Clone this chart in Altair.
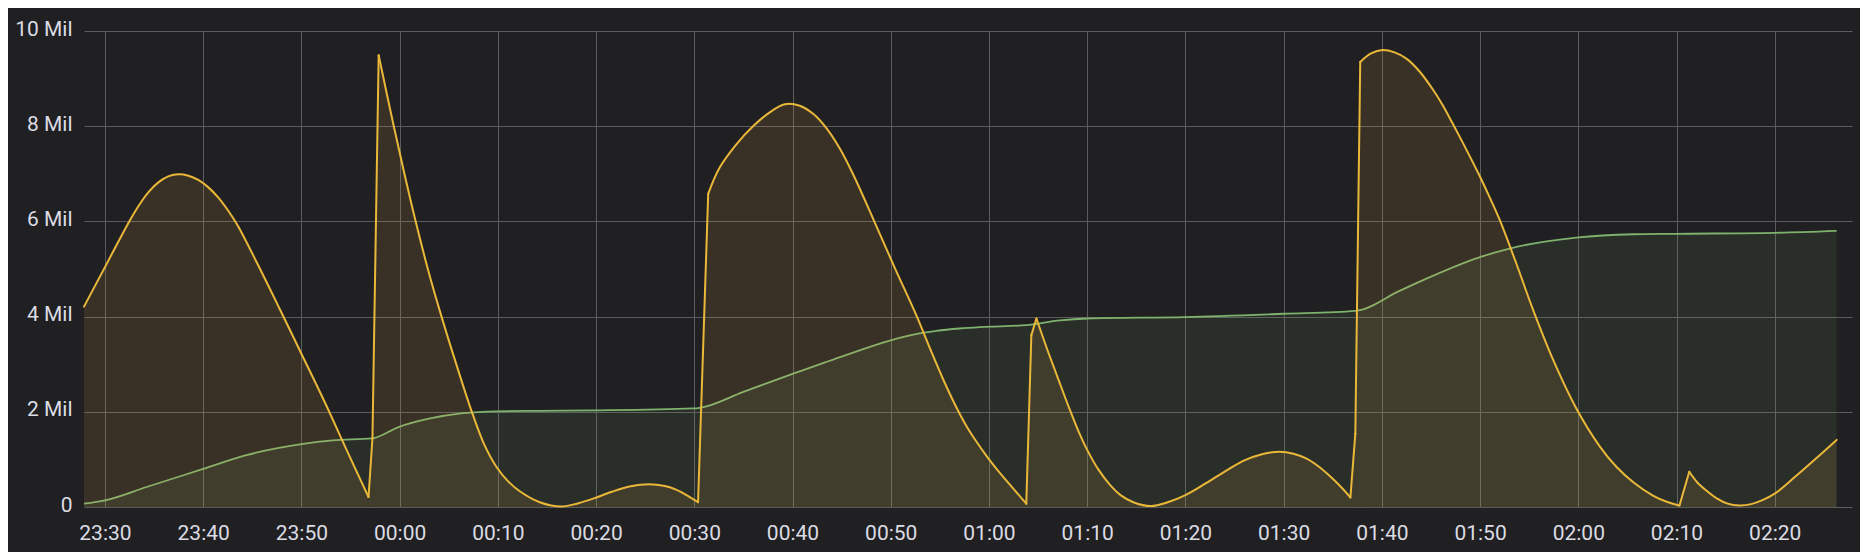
import altair as alt
import pandas as pd

# ---- data (values in millions) ----
yellow_times = [
    # piece 0
    "23:27:52", "23:30:00", "23:31:18", "23:32:32", "23:33:30", "23:34:30", "23:35:30",
    "23:36:30", "23:37:28", "23:38:30", "23:39:30", "23:40:30", "23:41:30", "23:42:30",
    "23:43:30", "23:45:30", "23:47:49", "23:50:00", "23:52:23", "23:54:36", "23:56:50",
    # jump
    "23:57:14",
    # piece 1
    "23:57:52", "23:59:21", "00:00:30", "00:01:33", "00:02:54", "00:04:16", "00:05:48",
    "00:07:19", "00:08:36", "00:09:52", "00:11:00", "00:12:14", "00:14:16", "00:16:29",
    "00:18:12", "00:19:54", "00:21:36", "00:23:24", "00:25:24", "00:27:00", "00:28:12",
    "00:29:18", "00:30:23",
    # piece 2
    "00:31:25", "00:32:35", "00:34:17", "00:35:59", "00:37:41", "00:39:13", "00:40:44",
    "00:42:06", "00:43:27", "00:44:49", "00:46:10", "00:48:12", "00:50:24", "00:52:36",
    "00:54:00", "00:55:18", "00:56:30", "00:57:36", "00:58:42", "00:59:48", "01:00:54",
    "01:02:00", "01:03:48",
    # jump
    "01:04:19",
    # piece 3
    "01:04:50", "01:05:54", "01:07:00", "01:08:12", "01:09:06", "01:10:00", "01:11:06",
    "01:12:18", "01:13:24", "01:14:42", "01:16:30", "01:18:12", "01:20:00", "01:22:06",
    "01:24:12", "01:26:00", "01:27:48", "01:29:36", "01:31:00", "01:32:18", "01:33:30",
    "01:34:42", "01:35:48", "01:36:48",
    # jump
    "01:37:18",
    # piece 4
    "01:37:48", "01:38:54", "01:40:06", "01:41:18", "01:42:30", "01:43:48", "01:45:12",
    "01:46:12", "01:47:12", "01:48:30", "01:49:51", "01:50:54", "01:52:00", "01:53:42",
    "01:55:24", "01:57:24", "01:59:48", "02:02:12", "02:03:54", "02:05:36", "02:07:36",
    "02:09:00", "02:10:18",
    # piece 5
    "02:11:18", "02:12:06", "02:13:00", "02:14:06", "02:15:12", "02:16:24", "02:17:36",
    "02:18:48", "02:20:00", "02:22:06", "02:24:12", "02:26:18",
]
yellow_values = [
    4.21, 5.04, 5.55, 6.02, 6.35, 6.63, 6.83,
    6.95, 6.99, 6.96, 6.87, 6.72, 6.51, 6.24,
    5.92, 5.12, 4.15, 3.22, 2.20, 1.20, 0.21,
    1.44,
    9.49, 8.05, 6.99, 6.07, 4.98, 4.00, 2.98,
    2.02, 1.32, 0.84, 0.55, 0.33, 0.10, 0.01,
    0.08, 0.19, 0.32, 0.43, 0.48, 0.44, 0.36,
    0.24, 0.10,
    6.58, 7.13, 7.62, 8.00, 8.29, 8.46, 8.43,
    8.26, 7.96, 7.53, 6.99, 6.06, 5.03, 4.03,
    3.33, 2.70, 2.17, 1.74, 1.38, 1.06, 0.77,
    0.50, 0.07,
    3.61,
    3.96, 3.33, 2.72, 2.06, 1.60, 1.20, 0.80,
    0.47, 0.25, 0.10, 0.02, 0.10, 0.25, 0.50,
    0.77, 0.98, 1.11, 1.16, 1.12, 1.02, 0.86,
    0.65, 0.43, 0.20,
    1.54,
    9.35, 9.53, 9.60, 9.55, 9.42, 9.16, 8.77,
    8.44, 8.06, 7.55, 7.00, 6.54, 6.03, 5.11,
    4.14, 3.11, 2.07, 1.27, 0.84, 0.52, 0.24,
    0.11, 0.03,
    0.74, 0.52, 0.35, 0.18, 0.07, 0.03, 0.06,
    0.15, 0.28, 0.64, 1.02, 1.41,
]
# smooth piece each point belongs to (odd ids are the single in-between points of jumps)
yellow_piece = [0] * 21 + [1] + [2] * 23 + [4] * 23 + [5] + [6] * 24 + [7] + [8] * 23 + [10] * 12

green_times = [
    "23:27:52", "23:30:00", "23:34:14", "23:40:00", "23:44:24", "23:50:00", "23:53:12",
    "23:57:12", "23:59:54", "00:03:06", "00:06:30", "00:09:54", "00:14:16", "00:19:54",
    "00:29:51", "00:30:42", "00:35:00", "00:39:48", "00:45:00", "00:50:00", "00:52:18",
    "00:54:39", "00:57:00", "00:59:04", "01:03:48", "01:07:12", "01:10:00", "01:20:00",
    "01:30:00", "01:37:18", "01:41:48", "01:43:48", "01:49:51", "01:53:00", "01:59:48",
    "02:05:36", "02:09:48", "02:20:00", "02:26:18",
]
green_values = [
    0.07, 0.14, 0.42, 0.80, 1.09, 1.32, 1.40,
    1.44, 1.68, 1.86, 1.97, 2.01, 2.02, 2.03,
    2.07, 2.09, 2.42, 2.78, 3.16, 3.50, 3.62,
    3.70, 3.75, 3.78, 3.82, 3.92, 3.96, 3.99,
    4.06, 4.12, 4.54, 4.73, 5.24, 5.43, 5.66,
    5.73, 5.74, 5.76, 5.80,
]
tick_labels = ["23:30", "23:40", "23:50", "00:00", "00:10", "00:20", "00:30", "00:40",
               "00:50", "01:00", "01:10", "01:20", "01:30", "01:40", "01:50", "02:00",
               "02:10", "02:20"]
y_ticks = [0, 2, 4, 6, 8, 10]
x_start, x_end = "23:27:52", "02:27:52"


def to_iso(clock):
    h = int(clock[:2])
    day = "2024-01-01" if h >= 12 else "2024-01-02"
    if len(clock) == 5:
        clock = clock + ":00"
    return f"{day}T{clock}"


def to_dt(clock):
    parts = [int(p) for p in clock.split(":")]
    while len(parts) < 3:
        parts.append(0)
    h, m, s = parts
    d = 1 if h >= 12 else 2
    return alt.DateTime(year=2024, month=1, date=d, hours=h, minutes=m, seconds=s)


# yellow: smooth pieces + straight connectors across the jumps
smooth_rows, jump_rows = [], []
for t, v, p in zip(yellow_times, yellow_values, yellow_piece):
    smooth_rows.append({"time": to_iso(t), "value": v * 1e6, "grp": f"p{p}"})
for i in range(len(yellow_times) - 1):
    if yellow_piece[i] != yellow_piece[i + 1]:
        for j in (i, i + 1):
            jump_rows.append({"time": to_iso(yellow_times[j]),
                              "value": yellow_values[j] * 1e6, "grp": f"c{i}"})
df_ys = pd.DataFrame(smooth_rows)
df_yj = pd.DataFrame(jump_rows)
df_g = pd.DataFrame({"time": [to_iso(t) for t in green_times],
                     "value": [v * 1e6 for v in green_values]})

YELLOW = "#EAB839"
YELLOW_FILL = "#F2AE4C"
GREEN = "#7EB26D"
BG = "#202022"

x_enc = alt.X(
    "time:T",
    scale=alt.Scale(domain=[to_dt(x_start), to_dt(x_end)]),
    axis=alt.Axis(
        values=[to_dt(t) for t in tick_labels],
        format="%H:%M",
        title=None,
        labelPadding=15,
        labelFlush=False,
        labelOverlap=False,
    ),
)
y_enc = alt.Y(
    "value:Q",
    stack=None,
    scale=alt.Scale(domain=[0, 10e6], nice=False),
    axis=alt.Axis(
        values=[v * 1e6 for v in y_ticks],
        labelExpr="datum.value == 0 ? '0' : format(datum.value / 1e6, 'd') + ' Mil'",
        title=None,
        labelPadding=12,
        labelOffset=-2,
    ),
)

g_base = alt.Chart(df_g).encode(x=x_enc, y=y_enc)
g_area = g_base.mark_area(interpolate="monotone", color=GREEN, opacity=0.1)
g_line = g_base.mark_line(interpolate="monotone", color=GREEN, strokeWidth=1.8)

ys_base = alt.Chart(df_ys).encode(x=x_enc, y=y_enc, detail="grp:N")
yj_base = alt.Chart(df_yj).encode(x=x_enc, y=y_enc, detail="grp:N")
y_area_s = ys_base.mark_area(interpolate="catmull-rom", color=YELLOW_FILL, opacity=0.12)
y_area_j = yj_base.mark_area(interpolate="linear", color=YELLOW_FILL, opacity=0.12)
y_line_s = ys_base.mark_line(interpolate="catmull-rom", color=YELLOW, strokeWidth=2,
                             strokeCap="round")
y_line_j = yj_base.mark_line(interpolate="linear", color=YELLOW, strokeWidth=2,
                             strokeCap="round")

chart = (
    alt.layer(g_area, g_line, y_area_s, y_area_j, y_line_s, y_line_j)
    .properties(
        width=1768,
        height=476,
        padding={"left": 76, "top": 23, "right": 8, "bottom": 45},
        autosize=alt.AutoSizeParams(type="none"),
        background=BG,
    )
    .configure_view(stroke=None)
    .configure_axis(
        domain=False,
        ticks=False,
        grid=True,
        gridColor="#5c5c5e",
        gridWidth=1,
        gridOpacity=1,
        labelFont="Roboto",
        labelFontSize=21,
        labelColor="#dcdce4",
    )
)

chart.save("out.html", embed_options={"renderer": "svg", "actions": False})
